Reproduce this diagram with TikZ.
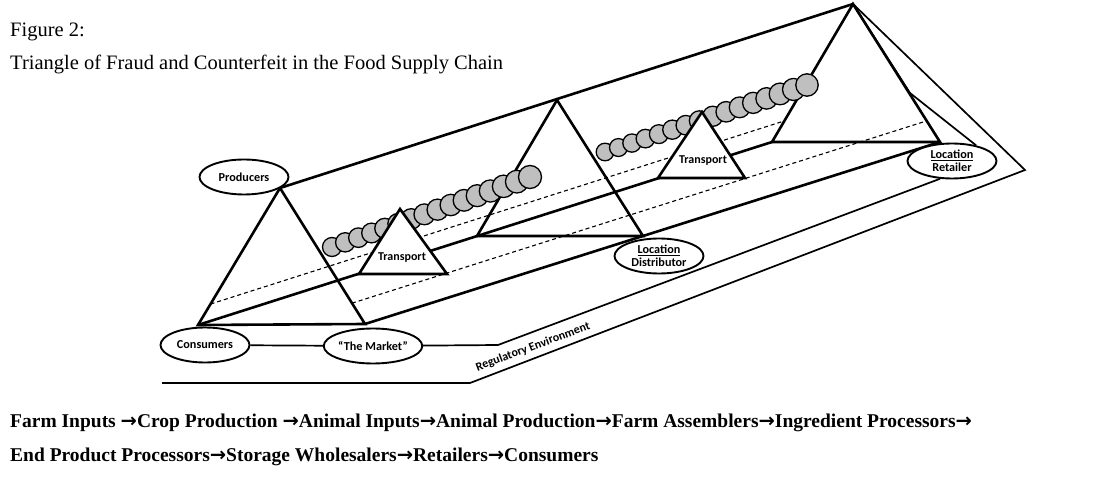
\documentclass[tikz,border=0pt]{standalone}
\usepackage{fontspec}
\setmainfont{Liberation Serif}
\newfontfamily\lblfont{Carlito}
\newfontfamily\arrowfont{DejaVu Sans}
\newcommand{\stagearrow}{{\arrowfont\bfseries →}}
\usetikzlibrary{shapes.geometric,calc}

\tikzset{
  edge/.style={line width=2.6pt},
  regline/.style={line width=1.7pt},
  hidden/.style={line width=1.1pt,dash pattern=on 4pt off 3pt},
  oval/.style={ellipse,draw,line width=1.9pt,fill=white,minimum width=89pt,
    minimum height=35pt,inner sep=0pt,align=center,
    font=\lblfont\bfseries\fontsize{12.2}{13.5}\selectfont},
  bead/.style={draw,line width=1.3pt,fill=black!25},
  lbl/.style={font=\lblfont\bfseries\fontsize{12}{13.5}\selectfont},
  caption/.style={anchor=base west,inner sep=0pt,font=\fontsize{20.5}{24}\selectfont},
  chainline/.style={anchor=base west,inner sep=0pt,font=\bfseries\fontsize{19.5}{22}\selectfont},
}

\begin{document}
\begin{tikzpicture}[x=1pt,y=-1pt]
  \useasboundingbox (0,0) rectangle (1116,478);

  % Captions
  \node[caption] (fig) at (10,37) {Figure 2:};
  \node[caption] (ttl) at (10,70) {Triangle of Fraud and Counterfeit in the Food Supply Chain};

  % Triangle vertices
  \coordinate (A1) at (280,188);
  \coordinate (L1) at (198,325);
  \coordinate (R1) at (365,324);
  \coordinate (A2) at (557,100);
  \coordinate (L2) at (477,236);
  \coordinate (R2) at (643,236);
  \coordinate (A3) at (853,4);
  \coordinate (L3) at (772,142);
  \coordinate (R3) at (940,142);

  % Regulatory environment
  \coordinate (G1) at (162,383);
  \coordinate (G2) at (470,383);
  \coordinate (G3) at (1025,170);
  \draw[regline] (G1) -- (G2) -- (G3) -- (A3);

  % Hidden edges
  \draw[hidden] ($(L1)!0.153!(A1)$) -- ($(L3)!0.153!(A3)$);
  \draw[hidden] ($(R1)!0.153!(A1)$) -- ($(R3)!0.153!(A3)$);

  % Prism edges
  \draw[edge] (A1) -- (A3);
  \draw[edge] (L1) -- (L3);
  \draw[edge] (R1) -- (R3);
  \draw[edge] (L1) -- (A1) -- (R1) -- cycle;
  \draw[edge] (L2) -- (A2) -- (R2) -- cycle;
  \draw[edge] (L3) -- (A3) -- (R3) -- cycle;

  % Chains of beads
  \foreach \i in {0,...,15}{
    \pgfmathsetmacro{\t}{\i/15}
    \draw[bead] ($(332,247)!\t!(530,177)$) circle ({9.5+2*\t});
  }
  \foreach \i in {0,...,15}{
    \pgfmathsetmacro{\t}{\i/15}
    \draw[bead] ($(605,152)!\t!(807,85)$) circle ({8.8+2.4*\t});
  }

  % Transport triangles
  \draw[edge,fill=white] (359,274) -- (400,209) -- (447,274) -- cycle;
  \node[lbl] (tr1) at (402,258) {Transport};
  \draw[edge,fill=white] (658,178) -- (702,112) -- (745,178) -- cycle;
  \node[lbl] (tr2) at (703,161) {Transport};

  % Actors
  \node[oval] (prod) at (244,177) {Producers};
  \node[oval] (cons) at (205,345) {Consumers};
  \node[oval] (mkt) at (373,346) {“The Market”};
  \node[oval] (dist) at (659,256) {\underline{Location}\\Distributor};
  \node[oval] (ret) at (952,161) {\underline{Location}\\Retailer};

  % Market boundary
  \coordinate (M1) at (498,345);
  \coordinate (M2) at (910,93);
  \draw[regline] (cons) -- (mkt);
  \draw[regline] (mkt) -- (M1) -- (ret.236);
  \draw[regline] (ret.33) -- (M2) -- (A3);

  \node[lbl,rotate=20.5] (reg) at (533,347) {Regulatory Environment};

  % Supply chain stages
  \node[chainline] (row1) at (10,427) {Farm Inputs \stagearrow Crop Production \stagearrow Animal Inputs\stagearrow Animal Production\stagearrow Farm Assemblers\stagearrow Ingredient Processors\stagearrow};
  \node[chainline] (row2) at (10,461) {End Product Processors\stagearrow Storage Wholesalers\stagearrow Retailers\stagearrow Consumers};
\end{tikzpicture}
\end{document}
